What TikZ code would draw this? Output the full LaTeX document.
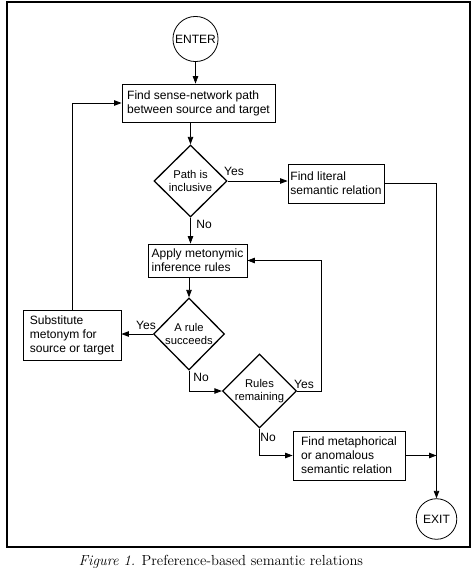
\documentclass[tikz,border=0pt]{standalone}
\usepackage{fontspec}
\setsansfont{Liberation Sans}
\usetikzlibrary{shapes.geometric,arrows.meta}

\begin{document}
\begin{tikzpicture}[x=0.35mm,y=-0.35mm,
		every node/.style={font=\sffamily\fontsize{12}{14}\selectfont},
		procbox/.style={draw,line width=0.8pt,align=left,inner sep=0pt},
		decision/.style={draw,diamond,line width=1.3pt,align=center,inner sep=-3mm,
			font=\sffamily\fontsize{11.2}{13.5}\selectfont},
		terminal/.style={draw,circle,line width=0.8pt,inner sep=0pt},
		flow/.style={line width=0.8pt,-{Triangle[length=2.6mm,width=1.9mm]}},
		answer/.style={inner sep=0pt},
	]
	\useasboundingbox (0,0) rectangle (474,569);
	\draw[line width=0.6mm] (7,2) rectangle (470,547);
	%
	\node[terminal,minimum size=15.8mm] (enter) at (195.5,39) {ENTER};
	\node[procbox,minimum width=53.55mm,minimum height=13.3mm] (findpath) at (198.5,103) {Find sense-network path\\between source and target};
	\node[decision,minimum width=25.55mm,minimum height=25.2mm] (inclusive) at (190.5,181) {Path is\\inclusive};
	\node[procbox,minimum width=33.6mm,minimum height=13.65mm] (literal) at (336,183.5) {Find literal\\semantic relation};
	\node[procbox,minimum width=34.65mm,minimum height=11.55mm] (apply) at (197.5,260.5) {Apply metonymic\\inference rules};
	\node[decision,minimum width=24.85mm,minimum height=25.2mm] (succeeds) at (189,334) {A rule\\succeeds};
	\node[procbox,minimum width=34.3mm,minimum height=17.5mm] (substitute) at (72,335) {Substitute\\metonym for\\source or target};
	\node[decision,minimum width=25.9mm,minimum height=25.9mm] (remaining) at (259.5,391) {Rules\\remaining};
	\node[procbox,minimum width=39.2mm,minimum height=17.15mm] (metaphor) at (349,455.5) {Find metaphorical\\or anomalous\\semantic relation};
	\node[terminal,minimum size=14.2mm] (exit) at (436.5,519) {EXIT};
	%
	\node[answer] (yes1) at (234,171) {Yes};
	\node[answer] (no1) at (204,224) {No};
	\node[answer] (yes2) at (146,325) {Yes};
	\node[answer] (no2) at (201,377) {No};
	\node[answer] (yes3) at (304,384) {Yes};
	\node[answer] (no3) at (268,437) {No};
	%
	\draw[flow] (enter) -- (enter |- findpath.north);
	\draw[flow] (inclusive |- findpath.south) -- (inclusive.north);
	\draw[flow] (inclusive.east) -- (inclusive.east -| literal.west);
	\draw[flow] (inclusive.south) -- (inclusive.south |- apply.north);
	\draw[flow] (apply.south -| succeeds.north) -- (succeeds.north);
	\draw[flow] (succeeds.west) -- (succeeds.west -| substitute.east);
	\draw[flow] (substitute.north) |- (findpath.west);
	\draw[flow] (succeeds.south) |- (remaining.west);
	\draw[flow] (remaining.east) -- ++(24,0) |- (apply.east);
	\draw[flow] (remaining.south) |- (metaphor.west);
	\draw[flow] (literal.east) -| (exit.north);
	\draw[flow] (metaphor.east) -- (metaphor.east -| exit.north);
	%
	\node[font=\rmfamily\fontsize{14.5}{17}\selectfont,anchor=base] (caption) at (221,565) {\textit{Figure 1.} Preference-based semantic relations};
\end{tikzpicture}
\end{document}
